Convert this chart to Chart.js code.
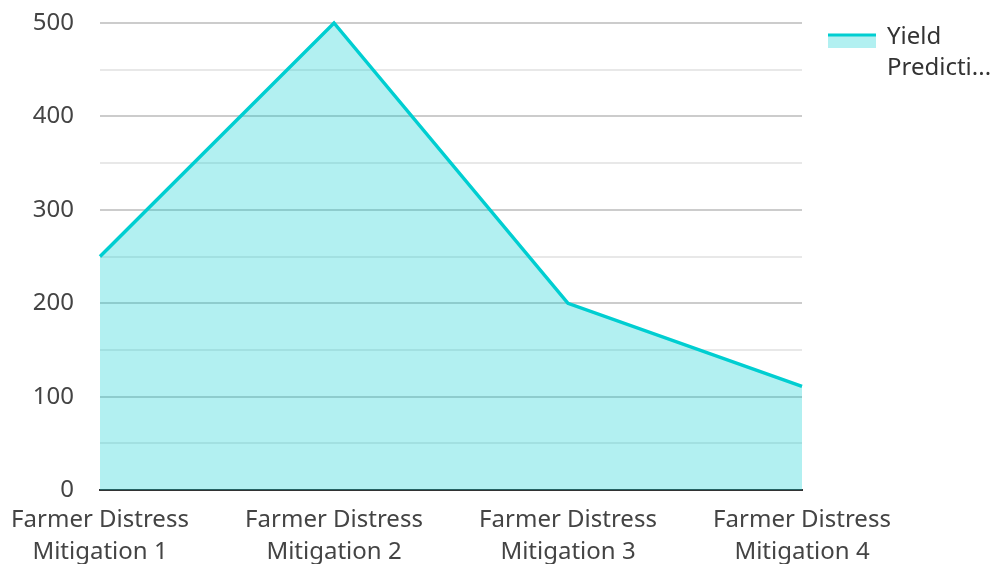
<!DOCTYPE html>
<html>
<head>
<meta charset="utf-8">
<script src="https://cdn.jsdelivr.net/npm/chart.js@4.4.0/dist/chart.umd.min.js"></script>
<style>
  html, body { margin: 0; padding: 0; overflow: hidden; background: #fff; }
  #wrap { width: 994px; height: 582px; position: relative; }
</style>
</head>
<body>
<div id="wrap"><canvas id="mycanvas"></canvas></div>
<script>
// data
var categories = [
	['Farmer Distress', 'Mitigation 1'],
	['Farmer Distress', 'Mitigation 2'],
	['Farmer Distress', 'Mitigation 3'],
	['Farmer Distress', 'Mitigation 4']
];
var yieldValues = [250, 500, 200, 111];
var seriesLabel = 'Yield Prediction';
var legendLines = ['Yield', 'Predicti...'];

var lineColor = '#00CED1';
var fillColor = 'rgba(0,206,209,0.3)';

// legend drawn by hand so the label can wrap like the reference
var sideLegend = {
	id : 'sideLegend',
	afterDraw : function(chart){
		var ctx = chart.ctx;
		var x = chart.chartArea.right + 26;
		var y = 35;
		ctx.save();
		ctx.fillStyle = fillColor;
		ctx.fillRect(x, y, 48, 13);
		ctx.strokeStyle = lineColor;
		ctx.lineWidth = 3;
		ctx.beginPath();
		ctx.moveTo(x, y);
		ctx.lineTo(x + 48, y);
		ctx.stroke();
		ctx.fillStyle = '#333';
		ctx.font = '24px "Noto Sans"';
		ctx.textBaseline = 'alphabetic';
		for(var i in legendLines){
			ctx.fillText(legendLines[i], x + 59, 44 + i * 31);
		}
		ctx.restore();
	}
};

var ctx = document.getElementById('mycanvas');
var chart = new Chart(ctx, {
	type : 'line',
	data : {
		labels : categories,
		datasets : [
			{
				label : seriesLabel,
				data : yieldValues,
				borderColor : lineColor,
				backgroundColor : fillColor,
				borderWidth : 3.5,
				fill : 'origin',
				tension : 0,
				clip : false,
				pointRadius : 0,
				pointHoverRadius : 0
			}
		]
	},
	options : {
		responsive : true,
		maintainAspectRatio : false,
		animation : false,
		layout : { padding : { top : 23, right : 192, left : 0, bottom : 0 } },
		plugins : {
			legend : { display : false },
			tooltip : { enabled : false }
		},
		scales : {
			x : {
				offset : false,
				afterFit : function(scale){ scale.paddingLeft = 0; scale.paddingRight = 0; },
				grid : { display : false, drawTicks : false },
				border : { display : true, color : '#333', width : 2 },
				ticks : {
					color : '#444',
					font : { family : 'Noto Sans', size : 24, lineHeight : 1.33 },
					padding : 14,
					maxRotation : 0,
					autoSkip : false
				}
			},
			y : {
				min : 0,
				max : 500,
				afterFit : function(scale){ scale.width = 100; scale.paddingTop = 0; },
				grid : {
					drawTicks : false,
					lineWidth : 2,
					color : function(c){
						return (c.tick && c.tick.value % 100 === 0) ? '#cccccc' : '#e8e8e8';
					}
				},
				border : { display : false },
				ticks : {
					stepSize : 50,
					padding : 26,
					color : '#444',
					font : { family : 'Noto Sans', size : 24 },
					callback : function(v){ return v % 100 === 0 ? v : ''; }
				}
			}
		}
	},
	plugins : [sideLegend]
});
</script>
</body>
</html>
